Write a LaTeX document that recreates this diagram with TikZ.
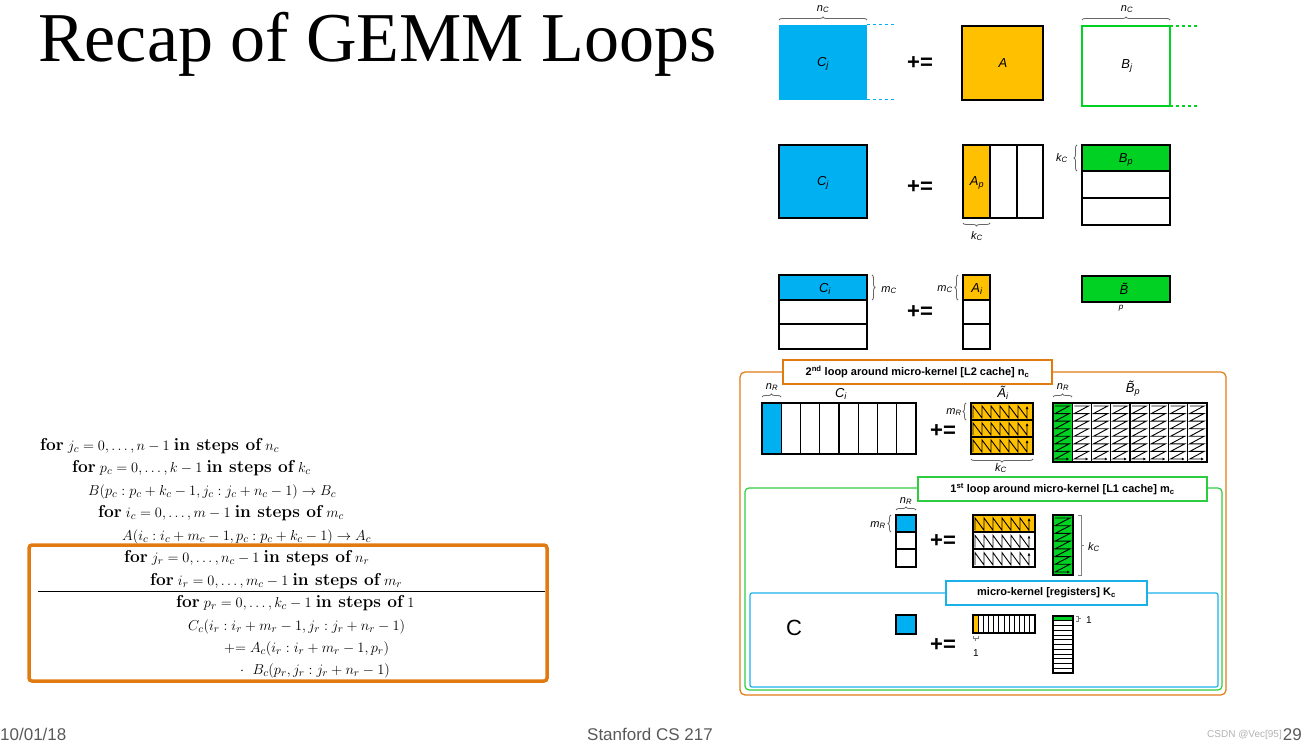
\documentclass[tikz,border=0pt]{standalone}
\usepackage[no-math]{fontspec}
\setmainfont{Liberation Sans}
\newfontfamily\tms{Liberation Serif}
\usetikzlibrary{decorations.pathreplacing,arrows.meta}
\definecolor{cblue}{HTML}{00B0F0}
\definecolor{corange}{HTML}{FFC000}
\definecolor{cgreen}{HTML}{00D123}
\definecolor{obox}{HTML}{E07B12}
\definecolor{gbox}{HTML}{2ECC40}
\definecolor{bbox}{HTML}{1AB0E8}
\newcommand\kw[1]{\hbox{\fontsize{19}{20}\usefont{OT1}{cmr}{bx}{n}#1}}
\newcommand\hzig[4]{% x0 y0 x1 y1 : horizontal sawtooth
  \pgfmathsetmacro\hh{(#4)-(#2)-5}\pgfmathsetmacro\ss{((#3)-(#1)-8)/6}
  \draw[line width=0.9pt,-{Latex[length=3pt,width=3pt]}] ({#1+2},{#4-2})
   \foreach \k in {1,...,6}{ -- ++(0,-\hh) -- ++(\ss,\hh)} -- ++(0,-\hh);}
\newcommand\vzig[4]{% vertical Z pattern
  \pgfmathsetmacro\ww{(#3)-(#1)-5}\pgfmathsetmacro\ss{((#4)-(#2)-6)/7}
  \draw[line width=0.9pt,-{Latex[length=3pt,width=3pt]}] ({#1+2},{#2+3})
   \foreach \k in {1,...,6}{ -- ++(\ww,0) -- ++(-\ww,\ss)} -- ++(\ww,0) -- ++(-\ww,\ss) -- ++(\ww,0);}
\begin{document}
\begin{tikzpicture}[x=1pt,y=-1pt,
  mat/.style={draw=black,line width=1.2pt},
  br/.style={draw=gray!80!black,line width=0.8pt,decorate,decoration={brace,amplitude=3pt}},
  lab/.style={font=\fontsize{13}{13}\selectfont\itshape,inner sep=0pt},
  sm/.style={font=\fontsize{11}{11}\selectfont\itshape,inner sep=0pt},
  pe/.style={font=\fontsize{22}{22}\selectfont\bfseries,inner sep=0pt},
  code/.style={anchor=base west,inner sep=0pt,font=\fontsize{15}{18}\selectfont},
  lbox/.style={fill=white,line width=1.2pt,font=\fontsize{11}{12}\selectfont\bfseries,inner sep=0pt,minimum height=24pt}]
\useasboundingbox (0,0) rectangle (1305,751);
% title
\node[anchor=base west,inner sep=0pt,font=\tms\fontsize{70}{70}\selectfont] (title) at (38,62) {Recap of GEMM Loops};
% footer
\node[anchor=base west,inner sep=0pt,font=\fontsize{17}{17}\selectfont,text=gray!70!black] (date) at (0,740) {10/01/18};
\node[anchor=base,inner sep=0pt,font=\fontsize{17}{17}\selectfont,text=gray!70!black] (course) at (650,740) {Stanford CS 217};
\node[anchor=base east,inner sep=0pt,font=\fontsize{10}{10}\selectfont,text=gray!60] (csdn) at (1282,737) {CSDN @Vec[95]};
\node[anchor=base east,inner sep=0pt,font=\fontsize{17}{17}\selectfont,text=gray!70!black] (pg) at (1302,740) {29};
% ---- row 1
\fill[cblue] (779,25) rectangle (867,100);
\draw[cblue,dashed,line width=1pt] (867,25) -- (895,25) (867,100) -- (895,100);
\node[lab] (cj1) at (823,64) {C\textsubscript{j}};
\draw[br] (779,20) -- (867,20); \node[sm] (nc1) at (823,9) {n\textsubscript{C}};
\node[pe] (pe1) at (920,63) {+=};
\draw[mat,fill=corange] (962,26) rectangle (1043,100); \node[lab] (a1) at (1003,63) {A};
\draw[cgreen,line width=1.3pt] (1082,26) rectangle (1170,106);
\draw[cgreen,dashed,line width=1.2pt] (1170,26) -- (1198,26) (1170,106) -- (1198,106);
\node[lab] (bj1) at (1127,66) {B\textsubscript{j}};
\draw[br] (1082,20) -- (1170,20); \node[sm] (nc2) at (1127,9) {n\textsubscript{C}};
% ---- row 2
\draw[mat,fill=cblue] (779,145) rectangle (867,218); \node[lab] (cj2) at (823,183) {C\textsubscript{j}};
\node[pe] (pe2) at (920,187) {+=};
\draw[mat,fill=corange] (963,145) rectangle (990,218);
\draw[mat] (990,145) rectangle (1017,218) (1017,145) rectangle (1043,218);
\node[lab] (ap) at (977,183) {A\textsubscript{p}};
\draw[br] (990,223) -- (963,223); \node[sm] (kc1) at (977,236) {k\textsubscript{C}};
\draw[mat,fill=cgreen] (1082,145) rectangle (1170,171);
\draw[mat] (1082,171) rectangle (1170,198) (1082,198) rectangle (1170,225);
\node[lab] (bp) at (1126,160) {B\textsubscript{p}};
\draw[br] (1077,171) -- (1077,145); \node[sm] (kc2) at (1062,158) {k\textsubscript{C}};
% ---- row 3
\draw[mat,fill=cblue] (779,275) rectangle (867,300);
\draw[mat] (779,300) rectangle (867,324) (779,324) rectangle (867,349);
\node[lab] (ci3) at (825,289) {C\textsubscript{i}};
\draw[br] (872,275) -- (872,300); \node[sm] (mc1) at (889,290) {m\textsubscript{C}};
\node[pe] (pe3) at (920,312) {+=};
\draw[mat,fill=corange] (963,275) rectangle (990,300);
\draw[mat] (963,300) rectangle (990,324) (963,324) rectangle (990,349);
\node[lab] (ai3) at (977,289) {A\textsubscript{i}};
\draw[br] (958,300) -- (958,275); \node[sm] (mc2) at (945,289) {m\textsubscript{C}};
\draw[mat,fill=cgreen] (1082,276) rectangle (1170,302);
\node[lab] (bt3) at (1124,289) {\~{B}};
\node[sm,font=\fontsize{8}{8}\selectfont\itshape] (p3) at (1121,308) {p};
% ---- boxes
\draw[obox,line width=1.2pt,rounded corners=5pt] (740,372) rectangle (1226,695);
\draw[gbox,line width=1.2pt,rounded corners=4pt] (745,488) rectangle (1222,690);
\draw[bbox,line width=1.2pt,rounded corners=2pt] (750,593) rectangle (1218,687);
\node[lbox,draw=obox,minimum width=269pt] (l2) at (917.5,372) {2\textsuperscript{nd} loop around micro-kernel [L2 cache] n\textsubscript{c}};
\node[lbox,draw=gbox,minimum width=289pt] (l1) at (1062.5,489) {1\textsuperscript{st} loop around micro-kernel [L1 cache] m\textsubscript{c}};
\node[lbox,draw=bbox,minimum width=201pt] (mk) at (1046.5,593) {micro-kernel [registers] K\textsubscript{c}};
% ---- L2 row
\fill[cblue] (762,403) rectangle (781.25,454);
\foreach \i in {0,...,7}{\draw[mat] (762+\i*19.25,403) rectangle (762+\i*19.25+19.25,454);}
\draw[br] (762,397) -- (781,397); \node[sm] (nr1) at (772,387) {n\textsubscript{R}};
\node[lab] (ci4) at (841,394) {C\textsubscript{i}};
\node[pe] (pe4) at (943,431) {+=};
\foreach \i in {0,1,2}{\draw[mat,fill=corange] (971,403+\i*17) rectangle (1033,420+\i*17); \hzig{971}{403+\i*17}{1033}{420+\i*17}}
\draw[br] (966,420) -- (966,403); \node[sm] (mr1) at (954,412) {m\textsubscript{R}};
\draw[br] (1033,459) -- (971,459); \node[sm] (kc3) at (1001,468) {k\textsubscript{C}};
\node[lab] (at4) at (1003,393) {\~{A}\textsubscript{i}};
\fill[cgreen] (1053,403) rectangle (1072.25,462);
\foreach \i in {0,...,7}{\draw[mat] (1053+\i*19.25,403) rectangle (1053+\i*19.25+19.25,462); \vzig{1053+\i*19.25}{403}{1053+\i*19.25+19.25}{462}}
\draw[br] (1053,397) -- (1072,397); \node[sm] (nr2) at (1063,387) {n\textsubscript{R}};
\node[lab] (bt4) at (1133,389) {\~{B}\textsubscript{p}};
% ---- L1 row
\draw[mat,fill=cblue] (896,515) rectangle (916,532);
\draw[mat] (896,532) rectangle (916,549) (896,549) rectangle (916,567);
\draw[br] (896,510) -- (916,510); \node[sm] (nr3) at (906,501) {n\textsubscript{R}};
\draw[br] (891,532) -- (891,515); \node[sm] (mr2) at (878,525) {m\textsubscript{R}};
\node[pe] (pe5) at (943,541) {+=};
\draw[mat,fill=corange] (973,515) rectangle (1035,532);
\draw[mat] (973,532) rectangle (1035,549) (973,549) rectangle (1035,567);
\foreach \i in {0,1,2}{\hzig{973}{515+\i*17.33}{1035}{532.33+\i*17.33}}
\draw[mat,fill=cgreen] (1053,515) rectangle (1073,575); \vzig{1053}{515}{1073}{575}
\draw[gray,line width=0.8pt] (1078,515) -- (1081,515) -- (1081,575) -- (1078,575) (1081,545) -- (1084,545);
\node[sm] (kc4) at (1094,547) {k\textsubscript{C}};
% ---- micro-kernel row
\node[inner sep=0pt,font=\fontsize{22}{22}\selectfont] (bigc) at (794,628) {C};
\draw[mat,fill=cblue] (896,615) rectangle (916,634);
\node[pe] (pe6) at (943,645) {+=};
\fill[corange] (973,615) rectangle (978.2,633);
\foreach \i in {0,...,11}{\draw[black,line width=0.9pt] (973+\i*5.17,615) rectangle (973+\i*5.17+5.17,633);}
\draw[mat] (973,615) rectangle (1035,633);
\draw[gray,line width=0.8pt] (973,636) -- (973,638) -- (978,638) -- (978,636) (975.5,638) -- (975.5,641);
\node[sm,font=\fontsize{10}{10}\selectfont] (one1) at (976,653) {1};
\fill[cgreen] (1053,616) rectangle (1073,620.75);
\foreach \i in {0,...,11}{\draw[black,line width=0.9pt] (1053,616+\i*4.75) rectangle (1073,616+\i*4.75+4.75);}
\draw[mat] (1053,616) rectangle (1073,673);
\draw[gray,line width=0.8pt] (1076,616) -- (1078,616) -- (1078,621) -- (1076,621) (1078,618.5) -- (1081,618.5);
\node[sm,font=\fontsize{10}{10}\selectfont] (one2) at (1089,620) {1};
% ---- code
\node[code] (c1) at (40,450) {\kw{for} $j_c = 0,\ldots,n-1$ \kw{in steps of} $n_c$};
\node[code] (c2) at (72,472) {\kw{for} $p_c = 0,\ldots,k-1$ \kw{in steps of} $k_c$};
\node[code] (c3) at (88,495) {$B(p_c: p_c+k_c-1, j_c: j_c+n_c-1) \rightarrow B_c$};
\node[code] (c4) at (98,517) {\kw{for} $i_c = 0,\ldots,m-1$ \kw{in steps of} $m_c$};
\node[code] (c5) at (122,540) {$A(i_c: i_c+m_c-1, p_c: p_c+k_c-1) \rightarrow A_c$};
\node[code] (c6) at (124,562) {\kw{for} $j_r = 0,\ldots,n_c-1$ \kw{in steps of} $n_r$};
\node[code] (c7) at (150,585) {\kw{for} $i_r = 0,\ldots,m_c-1$ \kw{in steps of} $m_r$};
\node[code] (c8) at (176,607) {\kw{for} $p_r = 0,\ldots,k_c-1$ \kw{in steps of} $1$};
\node[code] (c9) at (188,630) {$C_c(i_r: i_r+m_r-1, j_r: j_r+n_r-1)$};
\node[code] (c10) at (224,652) {$\mathrel{+}= A_c(i_r: i_r+m_r-1, p_r)$};
\node[code] (c11) at (240,674) {$\cdot\ \ B_c(p_r, j_r: j_r+n_r-1)$};
\draw[black,line width=0.7pt] (38,591) -- (545,591);
\draw[obox,line width=3.5pt,rounded corners=3pt] (29,545) rectangle (547,681);
\end{tikzpicture}
\end{document}
